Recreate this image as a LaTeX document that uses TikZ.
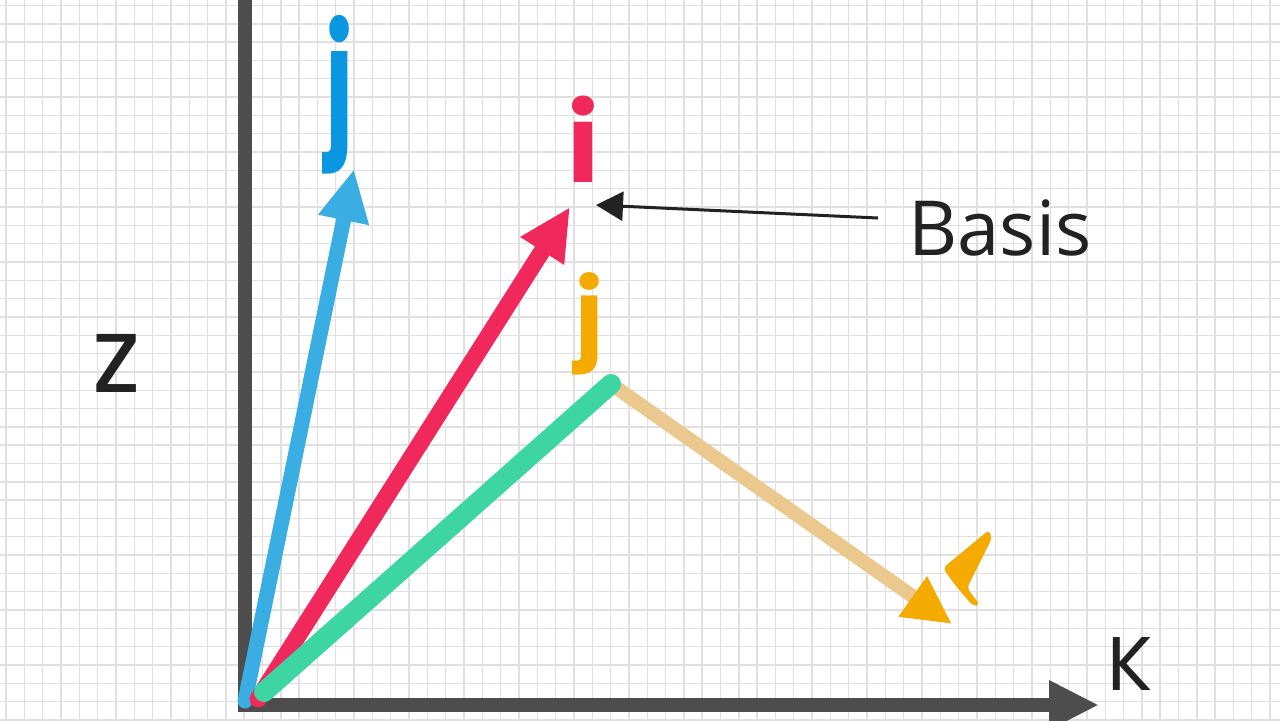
\documentclass[tikz,border=0pt]{standalone}
\usepackage{fontspec}
\setmainfont{Poppins}
\newfontfamily\basisfont{Open Sans}
\usetikzlibrary{arrows.meta}
\definecolor{gridgray}{HTML}{E0E0E0}
\definecolor{axisgray}{HTML}{4D4D4D}
\definecolor{inkblack}{HTML}{222222}
\definecolor{vecblue}{HTML}{3AAEE2}
\definecolor{labelblue}{HTML}{0A96E0}
\definecolor{vecred}{HTML}{F0285C}
\definecolor{vecgreen}{HTML}{3DD6A2}
\definecolor{vectan}{HTML}{EBC98E}
\definecolor{vecorange}{HTML}{F5AA00}
\begin{document}
\begin{tikzpicture}[x=0.5pt, y=-0.5pt,
        gridline/.style={
            draw=gridgray,
            line width=0.7pt},
        axisline/.style={
            draw=axisgray,
            line width=7pt,
            line cap=rect},
        axisarrow/.style={
            axisline,
            -{Triangle[length=25pt,width=23pt]}},
        vecarrow/.style={
            line width=#1,
            line cap=round,
            -{Triangle[length=26pt,width=24pt]}},
        letter/.style={
            inner sep=0pt,
            font=\fontsize{#1}{#1}\selectfont},
        pointer/.style={
            draw=inkblack,
            line width=1.5pt,
            -{Triangle[length=13.5pt,width=14.5pt]}}
        ]

        \fill[white] (0,0) rectangle (1280,720);
        \useasboundingbox (0,0) rectangle (1280,720);
        \foreach \i in {0,...,69}
            \draw[gridline] (6+\i*18.32,0) -- (6+\i*18.32,720);
        \foreach \i in {0,...,39}
            \draw[gridline] (0,5.5+\i*18.32) -- (1280,5.5+\i*18.32);

        \coordinate (origin) at (245,705);
        \coordinate (zend) at (245,-10);
        \coordinate (kend) at (1099,705);
        \coordinate (bluefoot) at (245,701);
        \coordinate (bluetip) at (354,169);
        \coordinate (redfoot) at (258,699);
        \coordinate (redtip) at (570,207);
        \coordinate (greenfoot) at (264,692);
        \coordinate (elbow) at (611,384);
        \coordinate (tantip) at (952,624);
        \coordinate (basistip) at (596,205);
        \coordinate (basisfoot) at (878,218);

        \draw [axisline] (zend) -- (origin);
        \draw [axisarrow] (origin) -- (kend);

        \draw [vecarrow=7.5pt, draw=vecblue, fill=vecblue] (bluefoot) -- (bluetip);
        \draw [vecarrow=8.5pt, draw=vecred, fill=vecred] (redfoot) -- (redtip);
        \draw [line width=7pt, line cap=round, draw=vectan,
            -{Triangle[length=24pt,width=23pt,color=vecorange]}] (elbow) -- (tantip);
        \draw [line width=10pt, line cap=round, draw=vecgreen] (greenfoot) -- (elbow);
        \fill [vecorange, rounded corners=2pt] (989,530) -- (943,568) -- (955,585)
            -- (973,606) -- (980,605) -- (967,588) -- (992,538) -- cycle;

        \node (zlabel) [letter=53pt, text=inkblack, anchor=base] at (117,392) {z};
        \node (klabel) [letter=38pt, text=inkblack, anchor=base west] at (1107,690) {K};
        \node (bluej) [letter=48pt, text=labelblue] at (340,95) {\bfseries\scalebox{1}[1.55]{j}};
        \node (redi) [letter=54pt, text=vecred] at (583,139) {\bfseries i};
        \node (orangej) [letter=48pt, text=vecorange] at (590,324) {\bfseries j};
        \node (basis) [letter=38pt, text=inkblack, anchor=base west] at (908,255) {\basisfont Basis};

        \draw [pointer] (basisfoot) -- (basistip);

        \end{tikzpicture}
\end{document}
